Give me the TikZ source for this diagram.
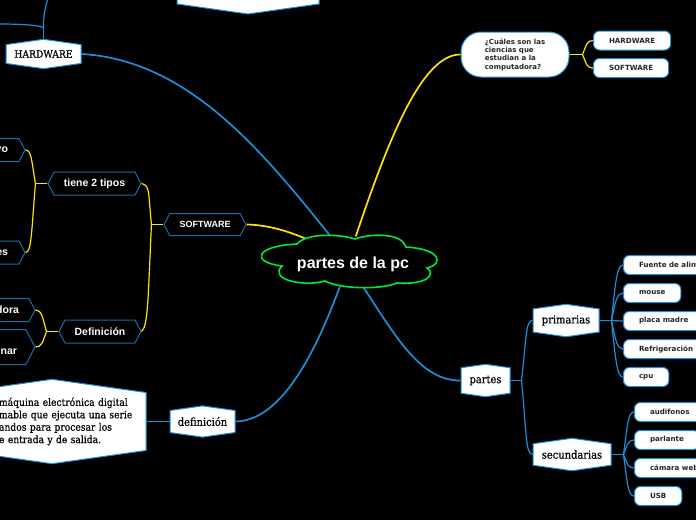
\documentclass[tikz,border=0pt]{standalone}
\usepackage{fontspec}
\setmainfont{DejaVu Sans}
\newfontfamily\slabfont[AutoFakeBold=0.6]{DejaVu Serif Condensed}
\newfontfamily\headfont{Liberation Sans}
\usetikzlibrary{shapes.symbols,shapes.geometric}
\definecolor{linkblue}{HTML}{1B8FD8}
\definecolor{edgeblue}{HTML}{1A6FA8}
\definecolor{linkyellow}{HTML}{FFE600}
\definecolor{cloudgreen}{HTML}{00E83A}
\tikzset{
  whitehex/.style={signal,signal to=north and south,signal pointer angle=164,
    draw=linkblue,line width=1pt,fill=white,text=black,inner sep=0pt,font=\slabfont\bfseries\fontsize{11}{13}\selectfont},
  darkhex/.style={signal,signal to=west and east,signal pointer angle=125,
    draw=edgeblue,line width=1pt,fill=black,text=white,inner sep=0pt,font=\headfont\bfseries\fontsize{10.5}{12}\selectfont},
  leafbox/.style={rectangle,rounded corners=6pt,anchor=west,draw=linkblue,line width=1pt,fill=white,
    text=black!85,inner xsep=15.5pt,inner ysep=0pt,minimum height=19pt,font=\bfseries\fontsize{7.1}{8}\selectfont},
  bluelink/.style={draw=linkblue,line width=1.7pt},
  bluefork/.style={draw=linkblue,line width=1.2pt},
  yellowlink/.style={draw=linkyellow,line width=1.7pt},
  yellowfork/.style={draw=linkyellow,line width=1.2pt},
}
\begin{document}
\begin{tikzpicture}[x=1pt,y=-1pt]
\useasboundingbox (0,0) rectangle (696,520);
\clip (0,0) rectangle (696,520);
\fill[black] (0,0) rectangle (696,520);
\node[ellipse,minimum width=172pt,minimum height=50pt,inner sep=0pt] (central) at (349,261.5) {};
% derecha arriba
\node[rectangle,rounded corners=20pt,draw=linkblue,line width=1pt,fill=white,text=black!85,minimum width=108pt,minimum height=45pt,
  inner xsep=0pt,inner ysep=0pt,align=left,font=\bfseries\fontsize{7}{8.3}\selectfont] (ciencias) at (515,54.5) {¿Cuáles son las\\ciencias que\\estudian a la\\computadora?};
\node[leafbox] (hardleaf) at (593,40.5) {HARDWARE};
\node[leafbox] (softleaf) at (593,68) {SOFTWARE};
% partes
\node[whitehex,minimum width=49pt,minimum height=30pt] (partes) at (485.5,380.5) {partes};
\node[whitehex,minimum width=66pt,minimum height=30pt] (primarias) at (566,320.5) {primarias};
\node[whitehex,minimum width=78pt,minimum height=30pt] (secundarias) at (572,454.5) {secundarias};
\foreach \n/\y/\t in {fuente/265/Fuente de alim,mouse/293/mouse,placa/321/placa madre,refri/349/Refrigeración,cpu/377/cpu}
  \node[leafbox] (\n) at (623,\y) {\t};
\foreach \n/\y/\t in {audifonos/412/audifonos,parlante/440/parlante,camara/468/cámara web,usb/496/USB}
  \node[leafbox] (\n) at (634,\y) {\t};
% izquierda
\node[whitehex,minimum width=75pt,minimum height=27pt,font=\slabfont\bfseries\fontsize{10.2}{12}\selectfont] (hardware) at (43.5,54) {HARDWARE};
\node[whitehex,minimum width=142pt,minimum height=22pt] (arriba) at (248,-7) {};
\coordinate (hardtop) at (48,-2);
\coordinate (hardleft) at (-2,24);
\node[whitehex,minimum width=65pt,minimum height=29pt] (definicion) at (202.5,421.5) {definición};
\node[whitehex,minimum width=188pt,minimum height=83pt,text width=178pt,align=left,font=\slabfont\bfseries\fontsize{10.2}{12.4}\selectfont] (texto) at (52,421.5)
  {\hspace*{36pt}máquina electrónica digital\\\hspace*{36pt}mable que ejecuta una serie\\\hspace*{36pt}andos para procesar los\\\hspace*{36pt}e entrada y de salida.};
\node[darkhex,minimum width=82pt,minimum height=22pt,font=\headfont\bfseries\fontsize{9}{10}\selectfont] (software) at (205,224.5) {SOFTWARE};
\node[darkhex,minimum width=93pt,minimum height=23pt] (tipos) at (94.5,183.5) {tiene 2 tipos};
\node[darkhex,minimum width=82pt,minimum height=23pt] (defsoft) at (100,331.5) {Definición};
\node[darkhex,minimum width=60pt,minimum height=23pt,text width=26pt,align=right] (vo) at (-5,150) {vo};
\node[darkhex,minimum width=60pt,minimum height=23pt,text width=26pt,align=right] (es) at (-5,252.5) {es};
\node[darkhex,minimum width=60pt,minimum height=23pt,text width=28pt,align=right] (dora) at (5,310) {dora};
\node[darkhex,minimum width=60pt,minimum height=35pt,text width=24pt,align=right] (nar) at (5,347) {\\[3pt]nar};
% enlaces azules
\draw[bluelink] (hardware.east) .. controls (190,60) and (265,155) .. (central.126);
\draw[bluelink] (definicion.east) .. controls (285,421) and (320,340) .. (central.250);
\draw[bluelink] (partes.west) .. controls (420,381) and (395,335) .. (central.299);
\draw[bluelink] (definicion.west) -- (texto.east);
\draw[bluelink] (hardware.north) -- ++(0,-11) coordinate (forkhard);
\draw[bluefork] (forkhard) .. controls (43,15) and (46,5) .. (hardtop);
\draw[bluefork] (forkhard) .. controls (40,25) and (20,24) .. (hardleft);
\draw[bluelink] (partes.east) -- ++(11,0) coordinate (forkpartes);
\foreach \to/\dy in {primarias/-60,secundarias/73}
  \draw[bluefork] (forkpartes) .. controls +(5,.7*\dy) and +(-7,0) .. (\to.west);
\draw[bluelink] (primarias.east) -- ++(12,0) coordinate (forkprim);
\foreach \to/\dy in {fuente/-56,mouse/-28,placa/0,refri/28,cpu/56}
  \draw[bluefork] (forkprim) .. controls +(4,.7*\dy) and +(-6,0) .. (\to.west);
\draw[bluelink] (secundarias.east) -- ++(12,0) coordinate (forksec);
\foreach \to/\dy in {audifonos/-42,parlante/-14,camara/14,usb/42}
  \draw[bluefork] (forksec) .. controls +(4,.7*\dy) and +(-6,0) .. (\to.west);
% enlaces amarillos
\draw[yellowlink] (software.east) .. controls (270,225) and (290,232) .. (central.152);
\draw[yellowlink] (ciencias.west) .. controls (420,54) and (385,150) .. (central.75);
\draw[yellowlink] (ciencias.east) -- ++(13,0) coordinate (forkcien);
\foreach \to/\dy in {hardleaf/-14,softleaf/14}
  \draw[yellowfork] (forkcien) .. controls +(4,.7*\dy) and +(-6,0) .. (\to.west);
\draw[yellowlink] (software.west) -- ++(-12,0) coordinate (forksoft);
\draw[yellowfork] (forksoft) .. controls (148,190) and (150,186) .. (tipos.east);
\draw[yellowfork] (forksoft) .. controls (148,300) and (148,326) .. (defsoft.east);
\draw[yellowlink] (tipos.west) -- ++(-12,0) coordinate (forktipos);
\foreach \to/\dy in {vo/-33,es/69}
  \draw[yellowfork] (forktipos) .. controls +(-4,.7*\dy) and +(6,0) .. (\to.east);
\draw[yellowlink] (defsoft.west) -- ++(-12,0) coordinate (forkdef);
\foreach \to/\dy in {dora/-21,nar/16}
  \draw[yellowfork] (forkdef) .. controls +(-4,.7*\dy) and +(6,0) .. (\to.east);
% nube
\draw[cloudgreen,line width=1.6pt,fill=black] (355,239)
  .. controls (372,233) and (402,233) .. (406,247)
  .. controls (422,248) and (437,252) .. (437,260)
  .. controls (437,264) and (432,267) .. (427,268)
  .. controls (436,274) and (428,285) .. (397,283)
  .. controls (380,290) and (340,289) .. (325,281)
  .. controls (305,287) and (268,280) .. (282,266)
  .. controls (250,262) and (255,246) .. (297,244)
  .. controls (305,234) and (335,233) .. (355,239) -- cycle;
\node[text=white,inner sep=0pt,font=\headfont\bfseries\fontsize{16}{18}\selectfont] (titulo) at (353,264) {partes de la pc};
\end{tikzpicture}
\end{document}
